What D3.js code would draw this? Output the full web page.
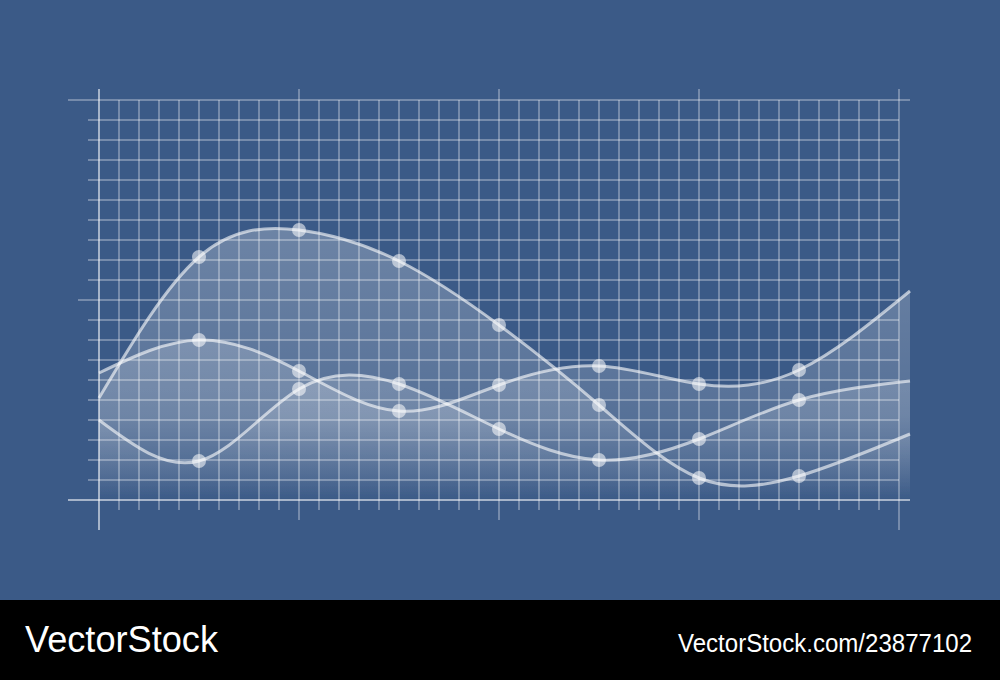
<!DOCTYPE html>
<html>
<head>
<meta charset="utf-8">
<script src="https://cdn.jsdelivr.net/npm/d3@7"></script>
<style>
  html, body { margin: 0; padding: 0; background: #3b5a87; }
  svg { display: block; }
</style>
</head>
<body>
<svg id="chart" width="1000" height="680"></svg>
<script>
// ---- data (grid units: x = minor column index, y = minor row index above baseline) ----
const xPositions = [0, 5, 10, 15, 20, 25, 30, 35, 40.55];
const seriesA = [5.1, 12.15, 13.5, 11.95, 8.75, 4.75, 1.1, 1.2, 3.3];
const seriesB = [6.35, 8.0, 6.45, 4.45, 5.75, 6.7, 5.8, 6.5, 10.45];
const seriesC = [4.0, 1.95, 5.55, 5.8, 3.55, 2.0, 3.05, 5.0, 5.95];
const markerIndices = [1, 2, 3, 4, 5, 6, 7];
const gridCols = d3.range(0, 41);   // vertical grid lines
const gridRows = d3.range(1, 21);   // horizontal grid lines (above axis)
const logoText = "VectorStock";
const creditText = "VectorStock.com/23877102";

const svg = d3.select("#chart");
const W = 1000, H = 680;

svg.append("rect").attr("width", W).attr("height", H).attr("fill", "#3b5a87");

const x = d3.scaleLinear().domain([0, 40]).range([99, 899]);
const y = d3.scaleLinear().domain([0, 20]).range([500, 100]);

// gradient for area fills
const defs = svg.append("defs");
const grad = defs.append("linearGradient")
  .attr("id", "areaGrad").attr("gradientUnits", "userSpaceOnUse")
  .attr("x1", 0).attr("x2", 0).attr("y1", y(14)).attr("y2", y(0));
grad.append("stop").attr("offset", 0).attr("stop-color", "#fff").attr("stop-opacity", 0.26);
grad.append("stop").attr("offset", 0.7).attr("stop-color", "#fff").attr("stop-opacity", 0.14);
grad.append("stop").attr("offset", 1).attr("stop-color", "#fff").attr("stop-opacity", 0.0);

// ---- areas ----
const series = [seriesA, seriesB, seriesC];
const curve = d3.curveNatural;
const area = d3.area()
  .x((d, i) => x(xPositions[i]))
  .y0(y(0))
  .y1(d => y(d))
  .curve(curve);
const line = d3.line()
  .x((d, i) => x(xPositions[i]))
  .y(d => y(d))
  .curve(curve);

const gArea = svg.append("g");
series.forEach(s => {
  gArea.append("path").attr("d", area(s)).attr("fill", "url(#areaGrad)");
});

// ---- grid ----
const gGrid = svg.append("g")
  .attr("stroke", "#ffffff").attr("stroke-opacity", 0.3).attr("stroke-width", 2).attr("fill", "none");

gridRows.forEach(r => {
  let x0 = x(0) - 11;
  if (r === 20) x0 = x(0) - 31;
  else if (r === 10) x0 = x(0) - 21;
  const x1 = r === 20 ? x(40) + 11 : x(40);
  gGrid.append("line")
    .attr("x1", x0).attr("x2", x1)
    .attr("y1", y(r)).attr("y2", y(r));
});

gridCols.forEach(c => {
  const major = c % 10 === 0;
  const top = major ? y(20) - 11 : y(20);
  let bottom = y(0) + 10;
  if (c === 0 || c === 40) bottom = y(0) + 30;
  else if (major) bottom = y(0) + 20;
  gGrid.append("line")
    .attr("x1", x(c)).attr("x2", x(c))
    .attr("y1", top).attr("y2", bottom)
    .attr("stroke-opacity", c === 0 ? 0.55 : 0.3);
});

// x axis line
svg.append("line")
  .attr("x1", x(0) - 31).attr("x2", x(40) + 11)
  .attr("y1", y(0)).attr("y2", y(0))
  .attr("stroke", "#fff").attr("stroke-opacity", 0.55).attr("stroke-width", 2);

// ---- lines ----
const gLines = svg.append("g");
series.forEach(s => {
  gLines.append("path").attr("d", line(s))
    .attr("fill", "none").attr("stroke", "#fff")
    .attr("stroke-opacity", 0.6).attr("stroke-width", 3);
});

// ---- markers ----
const gPts = svg.append("g");
series.forEach(s => {
  gPts.selectAll(null).data(markerIndices).enter().append("circle")
    .attr("cx", i => x(xPositions[i]))
    .attr("cy", i => y(s[i]))
    .attr("r", 7)
    .attr("fill", "#fff").attr("fill-opacity", 0.55);
});

// ---- footer band ----
svg.append("rect").attr("x", 0).attr("y", 600).attr("width", W).attr("height", 80).attr("fill", "#000");
svg.append("text")
  .attr("x", 25).attr("y", 652)
  .attr("font-family", "Liberation Sans, Arial, sans-serif")
  .attr("font-size", 37.5)
  .attr("fill", "#fff")
  .attr("textLength", 193).attr("lengthAdjust", "spacingAndGlyphs")
  .text(logoText);
svg.append("text")
  .attr("x", 678).attr("y", 652)
  .attr("font-family", "Liberation Sans, Arial, sans-serif")
  .attr("font-size", 25)
  .attr("fill", "#fff")
  .attr("textLength", 294).attr("lengthAdjust", "spacingAndGlyphs")
  .text(creditText);
</script>
</body>
</html>
